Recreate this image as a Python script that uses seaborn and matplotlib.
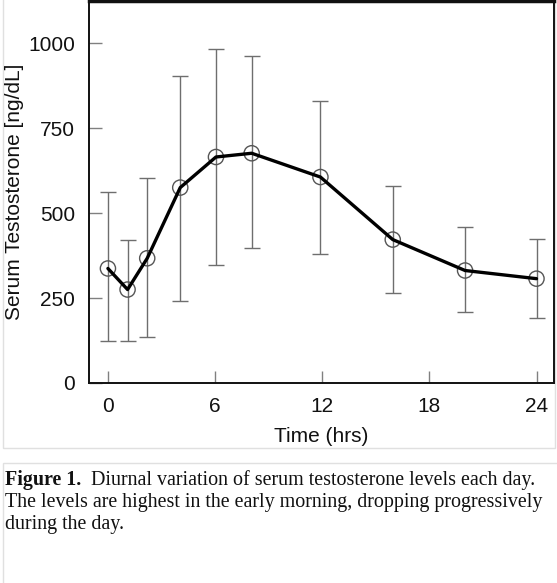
import numpy as np
import pandas as pd
import matplotlib
matplotlib.use("Agg")
import matplotlib.pyplot as plt
from matplotlib.patches import Rectangle
import seaborn as sns

# values
hours = [0, 1.1, 2.2, 4.05, 6.05, 8.05, 11.9, 15.95, 20.0, 24]
mean_t = [337, 275, 367, 575, 665, 676, 606, 422, 331, 307]
upper_t = [562, 421, 603, 903, 983, 961, 831, 581, 458, 424]
lower_t = [124, 124, 136, 240, 348, 397, 381, 266, 208, 192]
x_ticks = [0, 6, 12, 18, 24]
y_ticks = [0, 250, 500, 750, 1000]

caption_bold = "Figure 1."
caption_lines = ["  Diurnal variation of serum testosterone levels each day.",
                 "The levels are highest in the early morning, dropping progressively",
                 "during the day."]

df = pd.DataFrame({"hours": hours, "mean": mean_t, "upper": upper_t, "lower": lower_t})

sns.set_style("ticks")
plt.rcParams["font.family"] = ["Liberation Sans", "DejaVu Sans"]

W, H = 557, 583
fig = plt.figure(figsize=(W / 100, H / 100), dpi=100)

def px(x0, y0, x1, y1):
    # pixel box (top-left origin) -> figure fraction rect
    return [x0 / W, 1 - y1 / H, (x1 - x0) / W, (y1 - y0) / H]

# light frames around chart and caption (behind everything)
fig.patches.append(Rectangle((3 / W, 1 - 448 / H), 552 / W, 452 / H, transform=fig.transFigure,
                             fill=False, edgecolor="#e0e0e0", lw=1.0, zorder=-5))
fig.patches.append(Rectangle((3 / W, 1 - 600 / H), 560 / W, (600 - 463) / H, transform=fig.transFigure,
                             fill=False, edgecolor="#e0e0e0", lw=1.0, zorder=-5))

ax = fig.add_axes(px(89, 1, 554, 383))

err = np.array([df["mean"] - df["lower"], df["upper"] - df["mean"]])
ax.errorbar(df["hours"], df["mean"], yerr=err, fmt="none", ecolor="#6e6e6e",
            elinewidth=1.0, capsize=5.5, capthick=1.0, zorder=1)
sns.lineplot(data=df, x="hours", y="mean", color="black", lw=2.4, ax=ax, zorder=3)
ax.scatter(df["hours"], df["mean"], s=120, facecolors="none", edgecolors="#555555",
           linewidths=1.0, zorder=2)

ax.set_xlim(-1.06, 24.98)
ax.set_ylim(0, 1124)
ax.set_xticks(x_ticks)
ax.set_yticks(y_ticks)
ax.tick_params(direction="in", length=9, width=1, color="#808080",
               labelsize=15, labelcolor="#111111", pad=10)
for s in ax.spines.values():
    s.set_visible(True)
    s.set_color("#111111")
    s.set_linewidth(1.4)
ax.spines["top"].set_linewidth(2.5)

ax.set_xlabel("Time (hrs)", fontsize=15, labelpad=8, color="#111111")
ax.set_ylabel("Serum Testosterone [ng/dL]", fontsize=15, labelpad=3, color="#111111")

# caption
serif = ["Liberation Serif", "DejaVu Serif"]
fs = 14.4
t0 = fig.text(5 / W, 1 - 485 / H, caption_bold, family=serif, fontsize=fs,
              fontweight="bold", va="baseline", color="#111111")
fig.canvas.draw()
bb = t0.get_window_extent(fig.canvas.get_renderer())
fig.text(bb.x1 / W, 1 - 485 / H, caption_lines[0], family=serif, fontsize=fs,
         va="baseline", color="#111111")
fig.text(5 / W, 1 - 507 / H, caption_lines[1], family=serif, fontsize=fs,
         va="baseline", color="#111111")
fig.text(5 / W, 1 - 529 / H, caption_lines[2], family=serif, fontsize=fs,
         va="baseline", color="#111111")

fig.savefig("out.png", dpi=100)
